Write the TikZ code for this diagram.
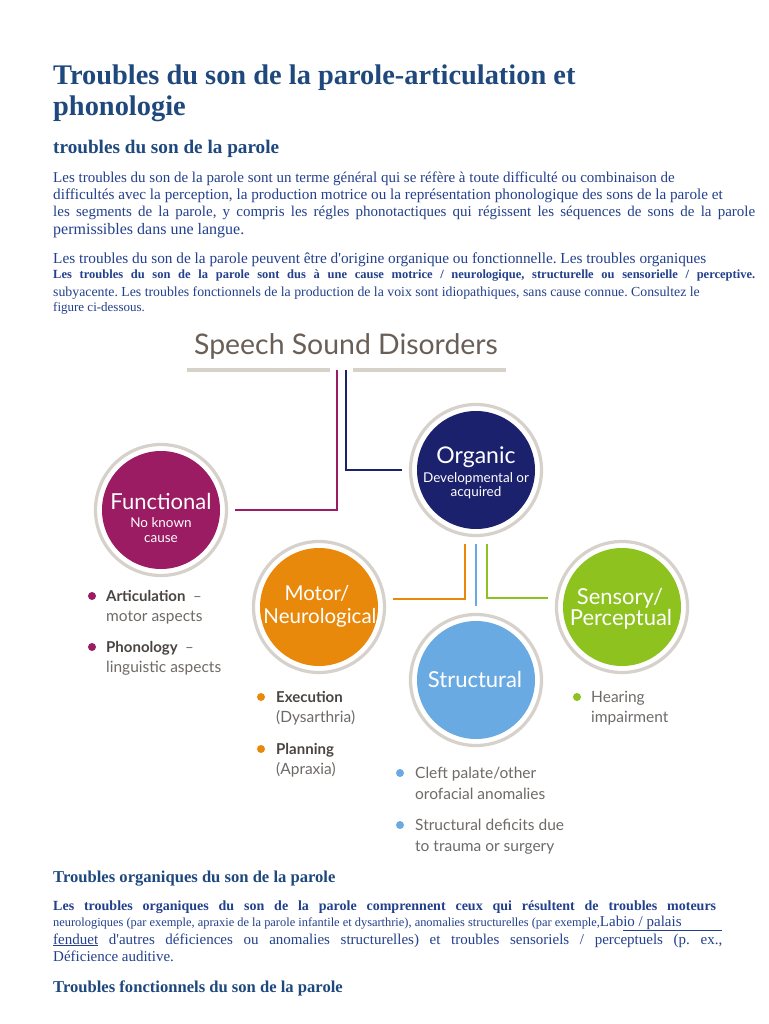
\documentclass[tikz,border=0pt]{standalone}
\usepackage{fontspec}
\setmainfont{Liberation Serif}
\newfontfamily\diagfont{Lato}
\usetikzlibrary{positioning}

\definecolor{headblue}{RGB}{31,73,125}
\definecolor{textblue}{RGB}{35,64,140}
\definecolor{plum}{RGB}{155,28,99}
\definecolor{navy}{RGB}{28,33,110}
\definecolor{motororange}{RGB}{233,137,12}
\definecolor{skyblue}{RGB}{106,170,226}
\definecolor{lime}{RGB}{141,194,31}
\definecolor{ringgray}{RGB}{214,209,203}
\definecolor{titlegray}{RGB}{106,95,87}
\definecolor{bulletdark}{RGB}{74,69,66}
\definecolor{bulletlight}{RGB}{110,106,103}

\newcommand{\setfs}[1]{\fontsize{#1}{#1}\selectfont}
\newcommand{\justline}[2]{\makebox[#1][s]{#2}}

\begin{document}
\frenchspacing
\begin{tikzpicture}[x=1pt, y=-1pt,
        txtline/.style={anchor=base west, inner sep=0pt, text=textblue, font=\setfs{15}},
        head/.style={anchor=base west, inner sep=0pt, text=headblue, font=\bfseries\setfs{#1}},
        disc/.style={circle, fill=#1, minimum size=118pt, inner sep=0pt, outer sep=15pt},
        ring/.style={draw=ringgray, line width=3.2pt},
        bigword/.style={anchor=base, inner sep=0pt, text=white, font=\diagfont\setfs{#1}},
        smallword/.style={anchor=base, inner sep=0pt, text=white, font=\diagfont\setfs{13.5}},
        dot/.style={circle, fill=#1, minimum size=8pt, inner sep=0pt},
        itemhead/.style={anchor=base west, inner sep=0pt, text=bulletdark, font=\diagfont\bfseries\setfs{15}},
        itemtext/.style={anchor=base west, inner sep=0pt, text=bulletlight, font=\diagfont\setfs{15.5}},
        link/.style={draw=#1, line width=2.5pt},
        rule/.style={draw=ringgray, line width=3.5pt}
    ]
\fill[white] (0,0) rectangle (768,1024);
\useasboundingbox (0,0) rectangle (768,1024);

% page text, top
\node[head=28.4] (title1) at (53,85) {Troubles du son de la parole-articulation et};
\node[head=28.4] (title2) at (53,116) {phonologie};
\node[head=19.2] (sub1) at (53,154) {troubles du son de la parole};

\node[txtline] (p1a) at (53,183) {Les troubles du son de la parole sont un terme général qui se réfère à toute difficulté ou combinaison de};
\node[txtline, font=\setfs{15.2}] (p1b) at (53,200) {difficultés avec la perception, la production motrice ou la représentation phonologique des sons de la parole et};
\node[txtline] (p1c) at (53,217) {\justline{702pt}{les segments de la parole, y compris les régles phonotactiques qui régissent les séquences de sons de la parole}};
\node[txtline, font=\setfs{16}] (p1d) at (53,234) {permissibles dans une langue.};

\node[txtline, font=\setfs{15.3}] (p2a) at (53,263) {Les troubles du son de la parole peuvent être d\textquotesingle origine organique ou fonctionnelle. Les troubles organiques};
\node[txtline, font=\bfseries\setfs{12.5}] (p2b) at (53,278) {\justline{702pt}{Les troubles du son de la parole sont dus à une cause motrice / neurologique, structurelle ou sensorielle / perceptive.}};
\node[txtline, font=\setfs{13.8}] (p2c) at (53,296) {subyacente. Les troubles fonctionnels de la production de la voix sont idiopathiques, sans cause connue. Consultez le};
\node[txtline, font=\setfs{13}] (p2d) at (53,311) {figure ci-dessous.};

% diagram
\node[anchor=base, inner sep=0pt, text=titlegray, font=\diagfont\setfs{28.4}] (ssd) at (346,354) {Speech Sound Disorders};
\draw[rule] (187,370) -- (330,370);
\draw[rule] (353,370) -- (506,370);
\coordinate (magtop) at (337,370);
\coordinate (navytop) at (346,370);

\node[disc=plum] (functional) at (161,510) {};
\node[disc=navy] (organic) at (476,470) {};
\node[disc=motororange] (motor) at (319,607) {};
\node[disc=skyblue] (structural) at (476,680) {};
\node[disc=lime] (sensory) at (622,607) {};
\foreach \c in {functional,organic,motor,structural,sensory}
    \draw[ring] (\c.center) circle (65.5pt);

\node[bigword=22] (functxt) at (161,509) {Functional};
\node[smallword] (funcsub1) at (161,527) {No known};
\node[smallword] (funcsub2) at (161,542) {cause};
\node[bigword=23] (orgtxt) at (476,463) {Organic};
\node[smallword] (orgsub1) at (476,482) {Developmental or};
\node[smallword] (orgsub2) at (476,496) {acquired};
\node[bigword=20.5] (motortxt1) at (317,600) {Motor/};
\node[bigword=20.5] (motortxt2) at (320,623) {Neurological};
\node[bigword=22] (structtxt) at (475,687) {Structural};
\node[bigword=22] (senstxt1) at (620,604) {Sensory/};
\node[bigword=22] (senstxt2) at (621,625) {Perceptual};

\draw[link=plum] (magtop) |- (functional.east);
\draw[link=navy] (navytop) |- (organic.west);
\draw[link=motororange] ([xshift=-11pt]organic.south) |- ([yshift=8pt]motor.east);
\draw[link=skyblue] (organic.south) -- (structural.north);
\draw[link=lime] ([xshift=11pt]organic.south) |- ([yshift=9pt]sensory.west);

% bullet lists
\node[dot=plum] (artdot) at (92,596) {};
\node[itemhead] (art) at (106,601) {Articulation\enspace\textcolor{bulletlight}{\mdseries –}};
\node[itemtext] (artsub) at (106,621) {motor aspects};
\node[dot=plum] (phondot) at (92,647) {};
\node[itemhead] (phon) at (106,652) {Phonology\enspace\textcolor{bulletlight}{\mdseries –}};
\node[itemtext] (phonsub) at (106,672) {linguistic aspects};

\node[dot=motororange] (execdot) at (261,697) {};
\node[itemhead] (exec) at (276,702) {Execution};
\node[itemtext] (execsub) at (276,722) {(Dysarthria)};
\node[dot=motororange] (plandot) at (261,749) {};
\node[itemhead] (plan) at (276,754) {Planning};
\node[itemtext] (plansub) at (276,774) {(Apraxia)};

\node[dot=skyblue] (cleftdot) at (400,773) {};
\node[itemtext] (cleft) at (415,778) {Cleft palate/other};
\node[itemtext] (cleftsub) at (415,799) {orofacial anomalies};
\node[dot=skyblue] (deficitdot) at (400,825) {};
\node[itemtext] (deficit) at (415,830) {Structural deficits due};
\node[itemtext] (deficitsub) at (415,851) {to trauma or surgery};

\node[dot=lime] (hearingdot) at (577,697) {};
\node[itemtext] (hearing) at (591,702) {Hearing};
\node[itemtext] (hearingsub) at (591,722) {impairment};

% page text, bottom
\node[head=16.6] (sub2) at (53,882) {Troubles organiques du son de la parole};
\node[txtline, font=\bfseries\setfs{14}] (f1) at (53,910) {\justline{663pt}{Les troubles organiques du son de la parole comprennent ceux qui résultent de troubles moteurs}};
\node[txtline] (f2) at (53,926) {{\setfs{12.4}neurologiques (par exemple, apraxie de la parole infantile et dysarthrie), anomalies structurelles (par exemple,}Lab\underline{io / palais\hspace{40pt}}};
\node[txtline] (f3) at (53,944) {\justline{669pt}{\underline{fenduet} d\textquotesingle autres déficiences ou anomalies structurelles) et troubles sensoriels / perceptuels (p. ex.,}};
\node[txtline] (f4) at (53,961) {Déficience auditive.};
\node[head=16.6] (sub3) at (53,992) {Troubles fonctionnels du son de la parole};

\end{tikzpicture}
\end{document}
